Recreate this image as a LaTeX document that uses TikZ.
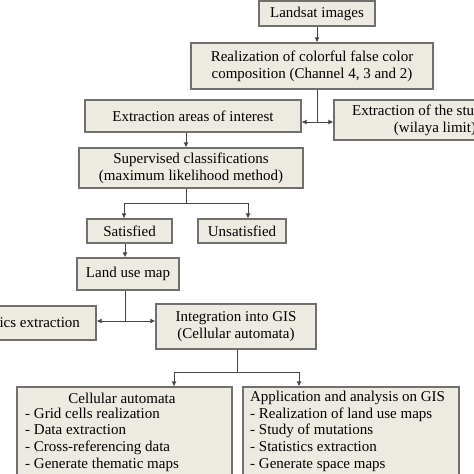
\documentclass[tikz,border=0pt]{standalone}
\usepackage{fontspec}
\setmainfont{Liberation Serif}
\usetikzlibrary{arrows.meta,positioning}
\definecolor{boxfill}{RGB}{237,235,225}
\definecolor{boxline}{RGB}{112,112,108}
\definecolor{linkgray}{RGB}{70,70,70}

\begin{document}
\begin{tikzpicture}[
    x=1pt, y=-1pt,
    font=\fontsize{15}{16.7}\selectfont,
    >={Latex[length=5pt,width=5pt]},
    box/.style={draw=boxline, fill=boxfill, line width=1.2pt, align=center, inner sep=2pt},
    link/.style={draw=linkgray, line width=1pt},
    listtext/.style={anchor=north west, align=left, inner sep=0pt}
]

% Page frame
\useasboundingbox (0,0) rectangle (474,474);
\clip (0,0) rectangle (474,474);

% Image preparation
\node[box, minimum width=116, minimum height=25] (landsat) at (317,13.5) {Landsat images};
\node[box, minimum width=242, minimum height=46] (colour) at (312,66) {Realization of colorful false color\\composition (Channel 4, 3 and 2)};
\node[box, minimum width=216, minimum height=32] (areas) at (193,116) {Extraction areas of interest};
\node[box, minimum width=202, minimum height=40] (study) at (435,120) {Extraction of the study area\\(wilaya limit)};

% Classification
\node[box, minimum width=224, minimum height=40] (superv) at (191,168) {Supervised classifications\\(maximum likelihood method)};
\node[box, minimum width=85, minimum height=24] (sat) at (129.5,231) {Satisfied};
\node[box, minimum width=88, minimum height=24] (unsat) at (242,231) {Unsatisfied};
\node[box, minimum width=102, minimum height=32] (landuse) at (128,274) {Land use map};

% GIS stage
\node[box, minimum width=150, minimum height=34] (stats) at (21,323) {Statistics extraction};
\node[box, minimum width=160, minimum height=45] (gis) at (236,326.5) {Integration into GIS\\(Cellular automata)};

% Result boxes (text set apart so the heading can be centred)
\node[box, minimum width=215, minimum height=91] (cell) at (124.5,432.5) {};
\node[box, minimum width=216, minimum height=91] (appl) at (351,432.5) {};
\node (cellhead) at (122,398) {Cellular automata};
\node[listtext] (celllist) at (25,407.5) {- Grid cells realization\\- Data extraction\\- Cross-referencing data\\- Generate thematic maps};
\node (applhead) at (347.5,398) {Application and analysis on GIS};
\node[listtext] (appllist) at (250,407.5) {- Realization of land use maps\\- Study of mutations\\- Statistics extraction\\- Generate space maps};

% Split points of the branching links
\coordinate (split1) at (317,122);
\coordinate (split2) at (186,203);
\coordinate (split3) at (125,321);
\coordinate (split4) at (237,372);
\coordinate (toSat) at (124,203);
\coordinate (toUnsat) at (248,203);
\coordinate (toCell) at (174,372);
\coordinate (toAppl) at (299,372);

% Links
\draw[link,->] (landsat.south) -- (landsat.south |- colour.north);
\draw[link] (split1 |- colour.south) -- (split1);
\draw[link,->] (split1) -- (split1 -| areas.east);
\draw[link,->] (split1) -- (split1 -| study.west);
\draw[link,->] (split2 |- areas.south) -- (split2 |- superv.north);

\draw[link] (split2 |- superv.south) -- (split2);
\draw[link] (toSat) -- (toUnsat);
\draw[link,->] (toSat) -- (toSat |- sat.north);
\draw[link,->] (toUnsat) -- (toUnsat |- unsat.north);
\draw[link,->] (split3 |- sat.south) -- (split3 |- landuse.north);

\draw[link] (split3 |- landuse.south) -- (split3);
\draw[link,->] (split3) -- (split3 -| stats.east);
\draw[link,->] (split3) -- (split3 -| gis.west);

\draw[link] (split4 |- gis.south) -- (split4);
\draw[link] (toCell) -- (toAppl);
\draw[link,->] (toCell) -- (toCell |- cell.north);
\draw[link,->] (toAppl) -- (toAppl |- appl.north);

\end{tikzpicture}
\end{document}
